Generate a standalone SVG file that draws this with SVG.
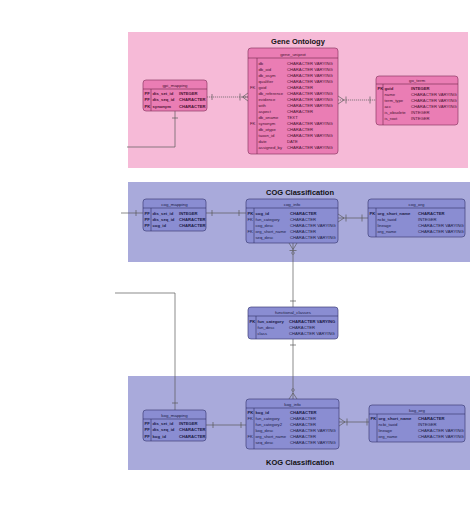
<svg xmlns="http://www.w3.org/2000/svg" width="474" height="520" viewBox="0 0 474 520">
<style>
.bg{fill:#ffffff}
.pg{fill:#f6bad7}
.pc{fill:#a9aadb}
.tg{fill:#ea7db4;stroke:#8e3b66;stroke-width:0.7}
.tc{fill:#8a8dd2;stroke:#3f417a;stroke-width:0.7}
.sg{stroke:#6e2a4c;stroke-width:0.6}
.sc{stroke:#2f3166;stroke-width:0.6}
text{font-family:"Liberation Sans",Arial,sans-serif}
.ti{font-size:7.5px;font-weight:bold;fill:#111111;text-anchor:middle}
.t{font-size:4.2px}
.g{fill:#4a1230}
.c{fill:#1a1b45}
.h{text-anchor:middle;font-size:4.4px}
.b{font-weight:bold}
.ln{fill:none;stroke:#5a5a5a;stroke-width:0.7}
.dt{stroke-dasharray:1.2,0.8}
.ci{fill:none;stroke:#5a5a5a;stroke-width:0.5}
</style>
<rect class="bg" x="0" y="0" width="474" height="520"/>
<g id="panel-go"><rect class="pg" x="128" y="32" width="340" height="136"/><text class="ti" x="298" y="43.5">Gene Ontology</text></g>
<g id="panel-cog"><rect class="pc" x="128" y="182" width="342" height="80"/><text class="ti" x="300" y="194.5">COG Classification</text></g>
<g id="panel-kog"><rect class="pc" x="128" y="376" width="342" height="94"/><text class="ti" x="300" y="465">KOG Classification</text></g>

<g id="connectors">
<path class="ln dt" d="M207,97 H248"/>
<path class="ln" d="M212,94 V100 M240,93.5 V100.5 M242.5,97 L248,93 M242.5,97 L248,101 M242.5,97 H248"/>
<path class="ln dt" d="M338,100 H376"/>
<path class="ln" d="M344,100 L338,96 M344,100 L338,104 M346,96.5 V103.5 M370,96.5 V103.5"/>
<path class="ln" d="M175,111 V147 H127 M172,118 H178"/>
<path class="ln" d="M121,213 H143 M136,210 V216"/>
<path class="ln" d="M206,213 H246 M212,210 V216 M239,210 V216"/>
<path class="ln" d="M338,218 H368 M344,218 L338,214 M344,218 L338,222 M346,214.5 V221.5 M362,214.5 V221.5"/>
<path class="ln" d="M293,243 V307 M293,249.5 L289,243 M293,249.5 L297,243 M289.5,250.5 H296.5 M290,301 H296"/>
<circle class="ci" cx="293" cy="253" r="1.4"/>
<path class="ln" d="M293,339 V399 M290,345 H296 M293,393 L289,399 M293,393 L297,399"/>
<circle class="ci" cx="293" cy="390" r="1.4"/>
<path class="ln" d="M115,293 H175 V410 M172,403 H178"/>
<path class="ln" d="M206,425 H246 M213,422 V428 M241,422 V428"/>
<path class="ln" d="M339,422 H369 M345,422 L339,418 M345,422 L339,426 M347,418.5 V425.5 M367,418.5 V425.5"/>
</g>

<g id="gpi_mapping">
<rect class="tg" x="143" y="80" width="64" height="31" rx="3"/>
<path class="sg" d="M143,89 H207 M151,89 V111"/>
<text class="t g h" x="175" y="86.5">gpi_mapping</text>
<g class="t g b">
<text x="144.5" y="94.5">PF</text><text x="152.5" y="94.5">dts_set_id</text><text x="179" y="94.5">INTEGER</text>
<text x="144.5" y="101">PF</text><text x="152.5" y="101">dts_seq_id</text><text x="179" y="101">CHARACTER</text>
<text x="144.5" y="107.5">PK</text><text x="152.5" y="107.5">synonym</text><text x="179" y="107.5">CHARACTER</text>
</g>
</g>

<g id="gene_uniprot">
<rect class="tg" x="248" y="48" width="90" height="106" rx="3"/>
<path class="sg" d="M248,58 H338 M257,58 V154"/>
<text class="t g h" x="293" y="55.5">gene_uniprot</text>
<g class="t g">
<text x="258.5" y="64.8">db</text><text x="287" y="64.8">CHARACTER VARYING</text>
<text x="258.5" y="70.8">db_oid</text><text x="287" y="70.8">CHARACTER VARYING</text>
<text x="258.5" y="76.9">db_osym</text><text x="287" y="76.9">CHARACTER VARYING</text>
<text x="258.5" y="82.9">qualifier</text><text x="287" y="82.9">CHARACTER VARYING</text>
<text x="250" y="88.9">FK</text><text x="258.5" y="88.9">goid</text><text x="287" y="88.9">CHARACTER</text>
<text x="258.5" y="95">db_reference</text><text x="287" y="95">CHARACTER VARYING</text>
<text x="258.5" y="101">evidence</text><text x="287" y="101">CHARACTER VARYING</text>
<text x="258.5" y="107">with</text><text x="287" y="107">CHARACTER VARYING</text>
<text x="258.5" y="113.1">aspect</text><text x="287" y="113.1">CHARACTER</text>
<text x="258.5" y="119.1">db_oname</text><text x="287" y="119.1">TEXT</text>
<text x="250" y="125.1">FK</text><text x="258.5" y="125.1">synonym</text><text x="287" y="125.1">CHARACTER VARYING</text>
<text x="258.5" y="131.1">db_otype</text><text x="287" y="131.1">CHARACTER</text>
<text x="258.5" y="137.2">taxon_id</text><text x="287" y="137.2">CHARACTER VARYING</text>
<text x="258.5" y="143.2">date</text><text x="287" y="143.2">DATE</text>
<text x="258.5" y="149.2">assigned_by</text><text x="287" y="149.2">CHARACTER VARYING</text>
</g>
</g>

<g id="go_term">
<rect class="tg" x="376" y="76" width="82" height="49" rx="3"/>
<path class="sg" d="M376,84 H458 M383,84 V125"/>
<text class="t g h" x="417" y="81.5">go_term</text>
<g class="t g">
<text class="b" x="377.5" y="89.8">PK</text><text class="b" x="384.5" y="89.8">goid</text><text class="b" x="411" y="89.8">INTEGER</text>
<text x="384.5" y="95.9">name</text><text x="411" y="95.9">CHARACTER VARYING</text>
<text x="384.5" y="102">term_type</text><text x="411" y="102">CHARACTER VARYING</text>
<text x="384.5" y="108.1">acc</text><text x="411" y="108.1">CHARACTER VARYING</text>
<text x="384.5" y="114.2">is_obsolete</text><text x="411" y="114.2">INTEGER</text>
<text x="384.5" y="120.3">is_root</text><text x="411" y="120.3">INTEGER</text>
</g>
</g>

<g id="cog_mapping">
<rect class="tc" x="143" y="199" width="63" height="32" rx="3"/>
<path class="sc" d="M143,208 H206 M151,208 V231"/>
<text class="t c h" x="174.5" y="205.5">cog_mapping</text>
<g class="t c b">
<text x="144.5" y="214.5">PF</text><text x="152.5" y="214.5">dts_set_id</text><text x="179" y="214.5">INTEGER</text>
<text x="144.5" y="220.5">PF</text><text x="152.5" y="220.5">dts_seq_id</text><text x="179" y="220.5">CHARACTER</text>
<text x="144.5" y="226.5">PF</text><text x="152.5" y="226.5">cog_id</text><text x="179" y="226.5">CHARACTER</text>
</g>
</g>

<g id="cog_info">
<rect class="tc" x="246" y="199" width="92" height="44" rx="3"/>
<path class="sc" d="M246,208 H338 M254,208 V243"/>
<text class="t c h" x="292" y="205.5">cog_info</text>
<g class="t c">
<text class="b" x="247.5" y="214.5">PK</text><text class="b" x="255.5" y="214.5">cog_id</text><text class="b" x="290" y="214.5">CHARACTER</text>
<text x="247.5" y="220.5">FK</text><text x="255.5" y="220.5">fun_category</text><text x="290" y="220.5">CHARACTER</text>
<text x="255.5" y="226.5">cog_desc</text><text x="290" y="226.5">CHARACTER VARYING</text>
<text x="247.5" y="232.5">FK</text><text x="255.5" y="232.5">org_short_name</text><text x="290" y="232.5">CHARACTER</text>
<text x="255.5" y="238.5">seq_desc</text><text x="290" y="238.5">CHARACTER VARYING</text>
</g>
</g>

<g id="cog_org">
<rect class="tc" x="368" y="199" width="97" height="38" rx="3"/>
<path class="sc" d="M368,208 H465 M376,208 V237"/>
<text class="t c h" x="416.5" y="205.5">cog_org</text>
<g class="t c">
<text class="b" x="369.5" y="214.5">PK</text><text class="b" x="377.5" y="214.5">org_short_name</text><text class="b" x="418" y="214.5">CHARACTER</text>
<text x="377.5" y="220.5">ncbi_taxid</text><text x="418" y="220.5">INTEGER</text>
<text x="377.5" y="226.5">lineage</text><text x="418" y="226.5">CHARACTER VARYING</text>
<text x="377.5" y="232.5">org_name</text><text x="418" y="232.5">CHARACTER VARYING</text>
</g>
</g>

<g id="functional_classes">
<rect class="tc" x="248" y="307" width="90" height="32" rx="3"/>
<path class="sc" d="M248,316 H338 M256,316 V339"/>
<text class="t c h" x="293" y="313.5">functional_classes</text>
<g class="t c">
<text class="b" x="249.5" y="322.5">PK</text><text class="b" x="257.5" y="322.5">fun_category</text><text class="b" x="289" y="322.5">CHARACTER VARYING</text>
<text x="257.5" y="328.5">fun_desc</text><text x="289" y="328.5">CHARACTER</text>
<text x="257.5" y="334.5">class</text><text x="289" y="334.5">CHARACTER VARYING</text>
</g>
</g>

<g id="kog_mapping">
<rect class="tc" x="143" y="410" width="63" height="31" rx="3"/>
<path class="sc" d="M143,419 H206 M151,419 V441"/>
<text class="t c h" x="174.5" y="416.5">kog_mapping</text>
<g class="t c b">
<text x="144.5" y="424.5">PF</text><text x="152.5" y="424.5">dts_set_id</text><text x="179" y="424.5">INTEGER</text>
<text x="144.5" y="431">PF</text><text x="152.5" y="431">dts_seq_id</text><text x="179" y="431">CHARACTER</text>
<text x="144.5" y="437.5">PF</text><text x="152.5" y="437.5">kog_id</text><text x="179" y="437.5">CHARACTER</text>
</g>
</g>

<g id="kog_info">
<rect class="tc" x="246" y="399" width="93" height="50" rx="3"/>
<path class="sc" d="M246,408 H339 M254,408 V449"/>
<text class="t c h" x="292.5" y="405.5">kog_info</text>
<g class="t c">
<text class="b" x="247.5" y="413.5">PK</text><text class="b" x="255.5" y="413.5">kog_id</text><text class="b" x="290" y="413.5">CHARACTER</text>
<text x="247.5" y="419.5">FK</text><text x="255.5" y="419.5">fun_category</text><text x="290" y="419.5">CHARACTER</text>
<text x="255.5" y="425.5">fun_category2</text><text x="290" y="425.5">CHARACTER</text>
<text x="255.5" y="432">kog_desc</text><text x="290" y="432">CHARACTER VARYING</text>
<text x="247.5" y="438">FK</text><text x="255.5" y="438">org_short_name</text><text x="290" y="438">CHARACTER</text>
<text x="255.5" y="444">seq_desc</text><text x="290" y="444">CHARACTER VARYING</text>
</g>
</g>

<g id="kog_org">
<rect class="tc" x="369" y="405" width="96" height="37" rx="3"/>
<path class="sc" d="M369,414 H465 M377,414 V442"/>
<text class="t c h" x="417" y="411.5">kog_org</text>
<g class="t c">
<text class="b" x="370.5" y="419.5">PK</text><text class="b" x="378.5" y="419.5">org_short_name</text><text class="b" x="418" y="419.5">CHARACTER</text>
<text x="378.5" y="425.5">ncbi_taxid</text><text x="418" y="425.5">INTEGER</text>
<text x="378.5" y="432">lineage</text><text x="418" y="432">CHARACTER VARYING</text>
<text x="378.5" y="438">org_name</text><text x="418" y="438">CHARACTER VARYING</text>
</g>
</g>
</svg>
